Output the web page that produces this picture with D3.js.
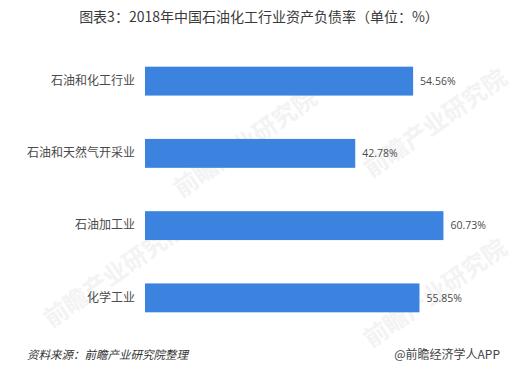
<!DOCTYPE html>
<html>
<head>
<meta charset="utf-8">
<script src="https://cdn.jsdelivr.net/npm/d3@7"></script>
<style>
  html, body { margin: 0; padding: 0; background: #fff; }
  svg { display: block; font-family: "Noto Sans CJK SC", "Open Sans", sans-serif; }
</style>
</head>
<body>
<div id="chart"></div>
<script>
const categories = ['石油和化工行业', '石油和天然气开采业', '石油加工业', '化学工业'];
const values = [54.56, 42.78, 60.73, 55.85];
const title = '图表3：2018年中国石油化工行业资产负债率（单位：%）';
const source = '资料来源：前瞻产业研究院整理';
const credit = '@前瞻经济学人APP';

const width = 518, height = 372;

const svg = d3.select('#chart')
  .append('svg')
  .attr('width', width)
  .attr('height', height);

// faint watermarks
const marks = [[250, 150], [440, 130], [120, 280], [440, 300]];
marks.forEach(([cx, cy]) => {
  svg.append('text')
    .attr('transform', `translate(${cx},${cy}) rotate(-35)`)
    .attr('text-anchor', 'middle')
    .attr('font-size', 24)
    .attr('font-weight', 'bold')
    .attr('fill', '#f3f3f3')
    .text('前瞻产业研究院');
});

const x = d3.scaleLinear()
  .domain([0, 70])
  .range([145, 489]);

const y = d3.scaleBand()
  .domain(categories)
  .range([45, 334])
  .paddingInner(0.6)
  .paddingOuter(0.3);

svg.append('text')
  .attr('x', 259)
  .attr('y', 22)
  .attr('text-anchor', 'middle')
  .attr('font-size', 14)
  .attr('fill', '#3a3a3a')
  .text(title);

svg.selectAll('.bar')
  .data(values)
  .enter().append('rect')
  .attr('class', 'bar')
  .attr('x', x(0))
  .attr('y', (d, i) => y(categories[i]))
  .attr('width', d => x(d) - x(0))
  .attr('height', y.bandwidth())
  .attr('fill', '#3b83de');

// category labels
svg.append('g')
  .attr('transform', `translate(${x(0)},0)`)
  .call(d3.axisLeft(y).tickSize(0).tickPadding(10))
  .call(g => g.select('.domain').remove())
  .call(g => g.selectAll('text')
    .attr('font-size', 12)
    .attr('fill', '#4a4a4a')
    .attr('font-family', '"Noto Sans CJK SC", sans-serif'));

svg.selectAll('.label')
  .data(values)
  .enter().append('text')
  .attr('class', 'label')
  .attr('x', d => x(d) + 7)
  .attr('y', (d, i) => y(categories[i]) + y.bandwidth() / 2)
  .attr('dy', '0.35em')
  .attr('font-size', 10.5)
  .attr('fill', '#4a4a4a')
  .attr('font-family', '"Open Sans", sans-serif')
  .text(d => d.toFixed(2) + '%');

svg.append('text')
  .attr('x', 27)
  .attr('y', 359)
  .attr('font-size', 11.5)
  .attr('font-style', 'italic')
  .attr('fill', '#333')
  .text(source);

svg.append('text')
  .attr('x', 500)
  .attr('y', 359)
  .attr('text-anchor', 'end')
  .attr('font-size', 12)
  .attr('fill', '#444')
  .text(credit);
</script>
</body>
</html>
